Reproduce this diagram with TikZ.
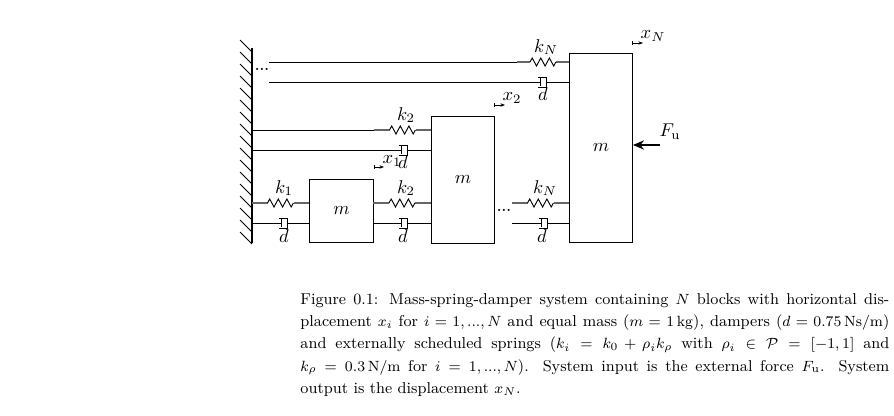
\documentclass[tikz,border=0pt]{standalone}
\usetikzlibrary{arrows.meta}
\newcommand\mySpring[3]{% x1 x2 y ; zigzag centered
  \draw[gray!80!black,line width=1pt] (#1,#3) -- ({(#1+#2)/2-13},#3);
  \draw[gray!80!black,line width=1pt] ({(#1+#2)/2+13},#3) -- (#2,#3);
  \draw[line width=0.5pt] ({(#1+#2)/2-13},#3) -- ++(2.2,-4) -- ++(4.3,8) -- ++(4.3,-8) -- ++(4.3,8) -- ++(4.3,-8) -- ++(4.3,8) -- ++(2.2,-4);}
\newcommand\myDamper[4]{% xleft xright y center
  \draw (#1,#3) -- (#4,#3);
  \draw (#4,#3-4) -- (#4,#3+4);
  \draw (#4-2,#3-5) -- (#4+6,#3-5) -- (#4+6,#3+5) -- (#4-2,#3+5);
  \draw (#4+6,#3) -- (#2,#3);}
\begin{document}
\begin{tikzpicture}[x=0.54pt,y=-0.54pt,line width=0.5pt,
  mass/.style={draw,inner sep=0pt,anchor=north west},
  dots/.style={font=\bfseries\scriptsize}]
\useasboundingbox (0,0) rectangle (894,415);
% wall
\coordinate (wt) at (252,48); \coordinate (wb) at (252,243);
\draw[line width=0.8pt] (wt) -- (wb);
\foreach \y in {48,60,...,240} \draw (252,\y+4) -- (240,\y-8);
% masses
\node[mass,minimum width=64*0.54pt,minimum height=63*0.54pt] (m1) at (309,179) {};
\node at (m1.center) {$m$};
\node[mass,minimum width=63*0.54pt,minimum height=127*0.54pt] (m2) at (431,116) {};
\node at (m2.center) {$m$};
\node[mass,minimum width=63*0.54pt,minimum height=189*0.54pt] (m3) at (569,53) {};
\node at (m3.center) {$m$};
% bottom row
\mySpring{252}{309}{203}
\node at (284,188) {$k_1$};
\myDamper{252}{309}{223}{281}
\node at (284,236) {$d$};
\mySpring{373}{431}{203}
\node at (406,188) {$k_2$};
\myDamper{373}{431}{223}{401}
\node at (403,236) {$d$};
\mySpring{512}{569}{203}
\node at (545,188) {$k_N$};
\myDamper{512}{569}{223}{541}
\node at (542,236) {$d$};
\node[dots] at (504,210) {...};
% middle row
\draw (252,130) -- (374,130);
\mySpring{374}{431}{130}
\node at (406,115) {$k_2$};
\myDamper{252}{431}{150}{401}
\node at (403,162) {$d$};
% top row
\draw (269,62) -- (517,62);
\mySpring{517}{569}{62}
\node at (546,47) {$k_N$};
\myDamper{269}{569}{82}{540}
\node at (543,94) {$d$};
\node[dots] at (262,69) {...};
% displacement arrows
\draw[-{Stealth[length=2.5pt]},line width=0.4pt] (374,167) -- (384,167);
\draw (374,165) -- (374,169);
\node at (392,161) {$x_1$};
\draw[-{Stealth[length=2.5pt]},line width=0.4pt] (494,105) -- (505,105);
\draw (494,103) -- (494,107);
\node at (512,98) {$x_2$};
\draw[-{Stealth[length=2.5pt]},line width=0.4pt] (632,43) -- (643,43);
\draw (632,41) -- (632,45);
\node at (653,36) {$x_N$};
% force
\coordinate (fs) at (660,145);
\draw[-{Stealth[length=6pt,width=5pt]},line width=0.8pt] (fs) -- (fs -| m3.east);
\node at (670,132) {$F_\mathrm{u}$};
% caption
\node[anchor=north west,text width=318pt,align=justify,inner sep=0pt,font=\fontsize{8.5}{12}\selectfont] (cap) at (300,293)
{Figure 0.1: Mass-spring-damper system containing $N$ blocks with horizontal displacement $x_i$ for $i=1,...,N$ and equal mass ($m=1\,\mathrm{kg}$), dampers ($d=0.75\,\mathrm{Ns/m}$) and externally scheduled springs ($k_i=k_0+\rho_i k_\rho$ with $\rho_i\in\mathcal{P}=[-1,1]$ and $k_\rho=0.3\,\mathrm{N/m}$ for $i=1,...,N$). System input is the external force $F_\mathrm{u}$. System output is the displacement $x_N$.};
\end{tikzpicture}
\end{document}
